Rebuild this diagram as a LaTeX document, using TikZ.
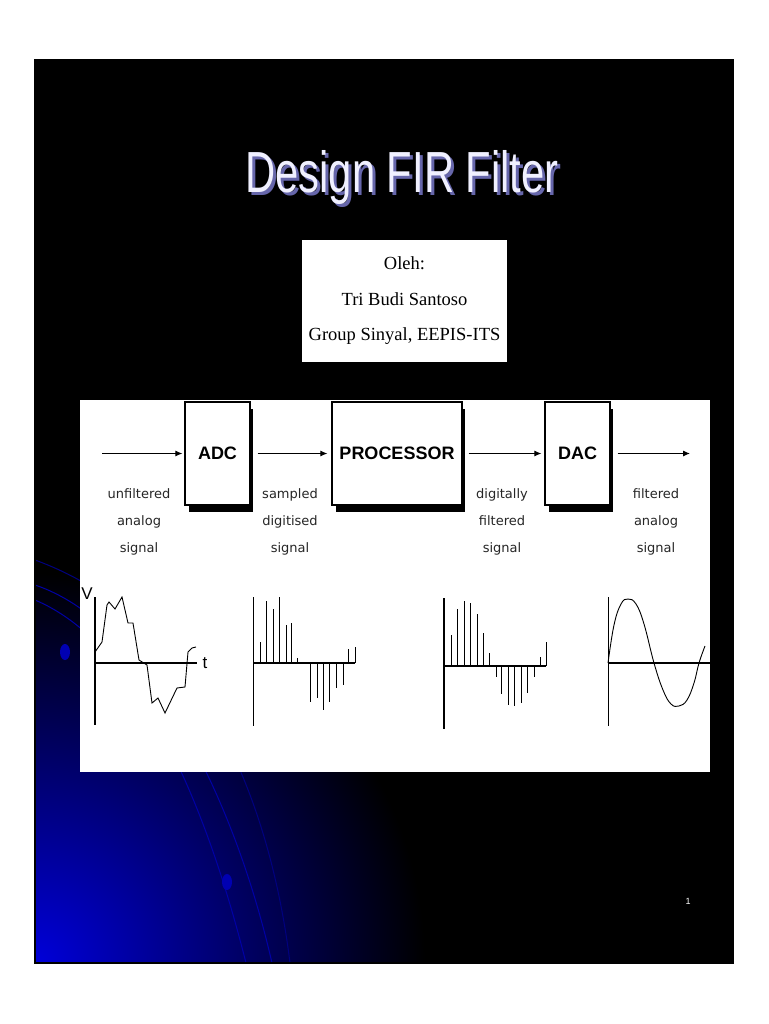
\documentclass[tikz,border=0pt]{standalone}
\usepackage{fontspec}
\setmainfont{Liberation Serif}
\newfontfamily\arialf{Liberation Sans}
\newfontfamily\thinf{DejaVu Sans}
\usetikzlibrary{arrows.meta,calc}
\newcommand\ttltext{\scalebox{0.72}[1]{Design FIR Filter}}
\begin{document}
\begin{tikzpicture}[x=1pt,y=-1pt,
  blk/.style={draw=black,line width=1.2pt,fill=white,inner sep=0pt,minimum height=103pt,font=\arialf\bfseries\fontsize{18}{20}\selectfont},
  shd/.style={fill=black},
  lbl/.style={font=\thinf\fontsize{13}{27}\selectfont,align=center,text=black!85},
  arr/.style={line width=1pt,-{Latex[length=7pt,width=6pt]}},
  axis/.style={line width=1.1pt},
  stem/.style={line width=0.9pt}]
\useasboundingbox (0,0) rectangle (768,1024);
\fill[white] (0,0) rectangle (768,1024);
\fill[black] (35,60) rectangle (733,963);
\begin{scope}
\clip (35,60) rectangle (733,963);
\shade[inner color=blue!85!black,outer color=black] (35,963) circle (390);
\draw[blue!65!black,line width=1pt] (35,585) .. controls (140,620) and (230,780) .. (272,963);
\draw[blue!65!black,line width=1pt] (35,600) .. controls (130,640) and (200,780) .. (246,963);
\draw[blue!50!black,line width=1pt] (35,560) .. controls (200,620) and (270,800) .. (290,963);
\fill[blue!70!black] (65,652) ellipse (5 and 8);
\fill[blue!70!black] (227,882) ellipse (5 and 8);
\end{scope}
\draw[black,line width=1.5pt] (35,60) rectangle (733,963);
\node[text=white,font=\arialf\fontsize{9}{10}\selectfont] (pg) at (688,901) {1};
% title with shadow
\node[font=\arialf\fontsize{58}{62}\selectfont] (title) at (402,179) {\makebox[0pt][l]{\hspace{3pt}\raisebox{-3pt}{\color{black!55!blue!60}\ttltext}}\color{blue!6!white}\ttltext};
% author box
\fill[white] (302,240) rectangle (507,362);
\node[font=\fontsize{18.5}{35.5}\selectfont,align=center] (auth) at (404.5,301) {Oleh:\\Tri Budi Santoso\\Group Sinyal, EEPIS-ITS};
% diagram panel
\fill[white] (80,400) rectangle (710,772);
\fill[shd] (189,409) rectangle (253,512);
\fill[shd] (336,409) rectangle (465,512);
\fill[shd] (549,409) rectangle (613,512);
\node[blk,minimum width=65pt] (adc) at (217.5,453.5) {ADC};
\node[blk,minimum width=130pt] (proc) at (397,453.5) {PROCESSOR};
\node[blk,minimum width=65pt] (dac) at (577.5,453.5) {DAC};
\coordinate (in) at (102,453.5);
\coordinate (out) at (690,453.5);
\draw[arr,shorten >=2pt] (in) -- (adc.west);
\draw[arr,shorten <=7pt,shorten >=4pt] (adc.east) -- (proc.west);
\draw[arr,shorten <=6pt,shorten >=3pt] (proc.east) -- (dac.west);
\draw[arr,shorten <=7pt] (dac.east) -- (out);
\node[lbl] (l1) at (139,522) {unfiltered\\analog\\signal};
\node[lbl] (l2) at (290,522) {sampled\\digitised\\signal};
\node[lbl] (l3) at (502,522) {digitally\\filtered\\signal};
\node[lbl] (l4) at (656,522) {filtered\\analog\\signal};
% plot 1
\draw[axis] (95,597) -- (95,725);
\draw[axis] (95,663) -- (197,663);
\node[font=\arialf\fontsize{17}{18}\selectfont] (v) at (87,594) {V};
\node[font=\arialf\fontsize{17}{18}\selectfont] (t) at (205,663) {t};
\draw[line width=0.9pt] (95,652) -- (102,642) -- (107,605) -- (109,602) -- (115,609) -- (122,597) -- (128,623) -- (133,623) -- (139,660) -- (147,665) -- (152,703) -- (158,698) -- (165,713) -- (177,688) -- (185,687) -- (188,652) -- (192,648) -- (196,647);
% plot 2
\draw[line width=0.8pt] (253,597) -- (253,726);
\draw[axis] (253,663) -- (355,663);
\foreach \x/\y in {260/642,266/601,273/609,279/597,286/625,291/623,297/658,310/702,317/698,323/710,329/702,336/688,343/685,348/649,355/647}
  \draw[stem] (\x,663) -- (\x,\y);
% plot 3
\draw[axis] (444,598) -- (444,729);
\draw[axis] (444,666) -- (546,666);
\foreach \x/\y in {451/635,457/609,464/601,470/603,477/614,483/633,489/653,496/677,501/694,508/705,514/706,521/703,527/693,534/677,540/657,546/642}
  \draw[stem] (\x,666) -- (\x,\y);
% plot 4
\draw[line width=0.8pt] (608,597) -- (608,726);
\draw[axis] (608,663) -- (710,663);
\draw[line width=0.9pt] plot[smooth,tension=0.7] coordinates {(608,663) (614,625) (621,604) (628,599) (636,604) (644,624) (654,663) (663,690) (671,704) (679,706) (687,700) (694,683) (699,663) (705,646)};
\end{tikzpicture}
\end{document}
